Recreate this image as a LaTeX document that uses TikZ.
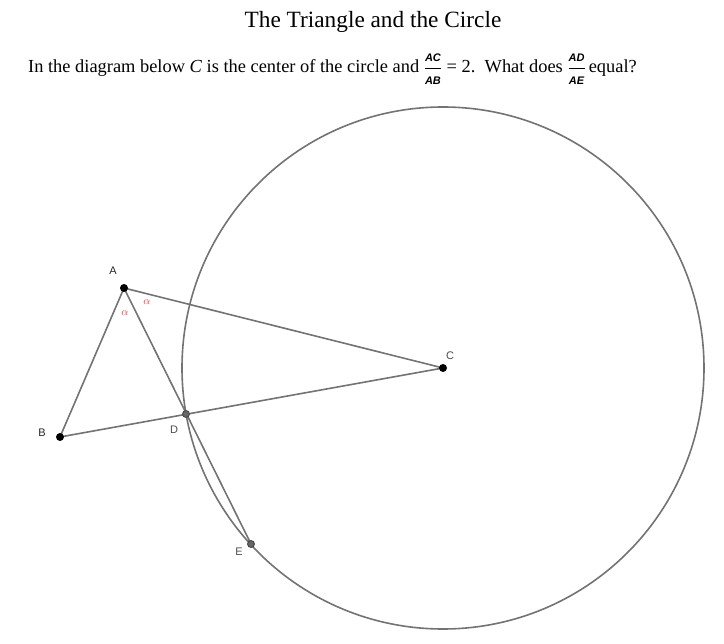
\documentclass[tikz,border=0pt]{standalone}
\usepackage{amsmath}
\usepackage{fontspec}
\setmainfont{Liberation Serif}
\setsansfont{Liberation Sans}
\newcommand{\fracsf}[2]{\dfrac{\text{\fontsize{11}{12}\selectfont\sffamily\itshape\bfseries #1}}{\text{\fontsize{11}{12}\selectfont\sffamily\itshape\bfseries #2}}}
\begin{document}
\begin{tikzpicture}[x=1pt,y=-1pt,
  seg/.style={draw=black!55, line width=1.6pt},
  ptbig/.style={circle, fill=black, inner sep=0pt, minimum size=8pt},
  ptsmall/.style={circle, fill=black!60, draw=black!75, line width=0.8pt, inner sep=0pt, minimum size=7pt},
  lab/.style={font=\sffamily\fontsize{11}{12}\selectfont, inner sep=0pt},
  alab/.style={text=red!80, font=\fontsize{11}{12}\selectfont, inner sep=0pt}]
\useasboundingbox (0,0) rectangle (724,644);
\node (title) at (373,22) {\fontsize{23.3}{26}\selectfont The Triangle and the Circle};
\node[anchor=base west, inner sep=0pt] (question) at (28,73) {\fontsize{18.4}{21}\selectfont In the diagram below \textit{C} is the center of the circle and $\fracsf{AC}{AB}$ = 2.\ \ What does $\fracsf{AD}{AE}$\,equal?};
\coordinate (Ac) at (124,288);
\coordinate (Bc) at (60,437);
\coordinate (Cc) at (443,368);
\coordinate (Dc) at (186,414);
\coordinate (Ec) at (251,544);
\draw[seg] (Cc) circle (261);
\draw[seg] (Ac) -- (Bc);
\draw[seg] (Ac) -- (Cc);
\draw[seg] (Bc) -- (Cc);
\draw[seg] (Ac) -- (Ec);
\node[ptbig] (A) at (Ac) {};
\node[ptbig] (B) at (Bc) {};
\node[ptbig] (C) at (Cc) {};
\node[ptsmall] (D) at (Dc) {};
\node[ptsmall] (E) at (Ec) {};
\node[lab, text=black!85] (la) at (113,271) {A};
\node[lab, text=black!85] (lb) at (42,433) {B};
\node[lab, text=black!70] (lc) at (450,356) {C};
\node[lab, text=black!70] (ld) at (174,430) {D};
\node[lab, text=black!70] (le) at (239,552) {E};
\node[alab] (a1) at (125,313) {$\alpha$};
\node[alab] (a2) at (147,302) {$\alpha$};
\end{tikzpicture}
\end{document}
